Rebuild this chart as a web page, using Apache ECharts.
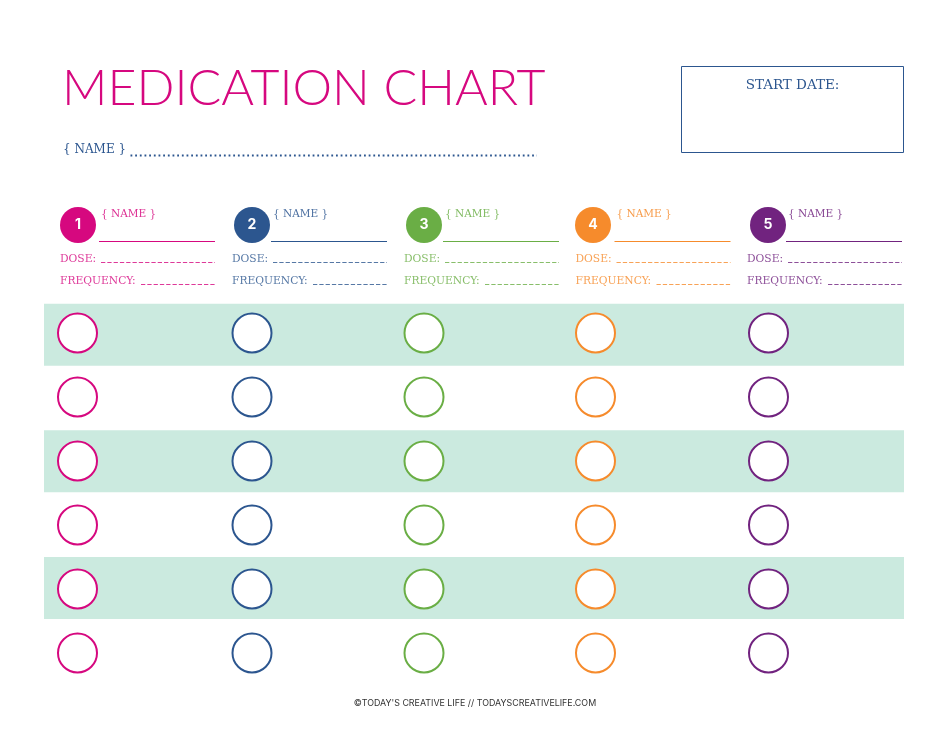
<!DOCTYPE html>
<html>
<head>
<meta charset="utf-8">
<style>html,body{margin:0;padding:0;background:#fff}#main{width:950px;height:739px}</style>
<script src="https://cdn.jsdelivr.net/npm/echarts@6/dist/echarts.min.js"></script>
</head>
<body>
<div id="main"></div>
<script>
var titleText = 'MEDICATION CHART';
var nameText = '{ NAME }';
var startText = 'START DATE:';
var doseText = 'DOSE:';
var freqText = 'FREQUENCY:';
var footerText = '©TODAY\'S CREATIVE LIFE // TODAYSCREATIVELIFE.COM';

var medicines = ['1', '2', '3', '4', '5'];
var rows = ['r1', 'r2', 'r3', 'r4', 'r5', 'r6'];
var stripes = [1, 0, 1, 0, 1, 0];
var colors = ['#d6087f', '#2c568f', '#6aae45', '#f68b2c', '#71237f'];

var SERIF = '"DejaVu Serif", serif';
var blue = colors[1];
var chart = echarts.init(document.getElementById('main'), null, {renderer: 'canvas'});

function hiddenCat(data, grid, extra) {
	return Object.assign({type: 'category', data: data, gridIndex: grid, show: false}, extra || {});
}

function text(x, y, str, color, size, extra) {
	return {
		type: 'text', x: x, y: y, silent: true,
		style: Object.assign({text: str, fill: color, fontFamily: SERIF, fontSize: size, verticalAlign: 'middle'}, extra || {})
	};
}

function line(x1, x2, y, color, width, dash, alpha) {
	return {
		type: 'line', silent: true,
		shape: {x1: x1, y1: y, x2: x2, y2: y},
		style: {stroke: color, lineWidth: width, lineDash: dash || null, opacity: alpha || 1}
	};
}

// page furniture around the grids
var graphics = [
	text(62, 88.5, titleText, colors[0], 50, {fontFamily: 'Lato', fontWeight: 300}),
	text(63, 150, nameText, blue, 12),
	line(130.5, 537, 155.5, blue, 1.8, [1.8, 2.87]),
	{type: 'rect', silent: true, shape: {x: 681.5, y: 66.5, width: 222, height: 86},
		style: {fill: 'none', stroke: blue, lineWidth: 1}},
	text(792.5, 85, startText, blue, 13.5, {textAlign: 'center'}),
	text(475, 703, footerText, '#333', 8.9, {fontFamily: 'Inter', textAlign: 'center'})
];

// labels and rules under each numbered badge
var colLeft = [60, 232, 404, 575.5, 747];
medicines.forEach(function (m, i) {
	var x = colLeft[i], c = colors[i];
	graphics.push(text(x + 41, 214.5, nameText, c, 10.5, {opacity: 0.85}));
	graphics.push(line(x + 39, x + 155, 241.5, c, 1.2));
	graphics.push(text(x, 259, doseText, c, 10.7, {opacity: 0.8}));
	graphics.push(line(x + 41, x + 155, 262.5, c, 1, [4.3, 2], 0.8));
	graphics.push(text(x, 281, freqText, c, 10.7, {opacity: 0.8}));
	graphics.push(line(x + 81, x + 155, 284.5, c, 1, [4.3, 2], 0.8));
});

// the printed columns are not quite evenly spaced
var circleNudge = [0, 1.75, 1, -0.25, 0];
var badgeNudge = [0, 1.5, 1, -2.5, 0];

var option = {
	animation: false,
	backgroundColor: '#fff',
	grid: [
		{left: 44, width: 860, top: 303, height: 380},
		{left: 77.5, width: 691, top: 301, height: 384},
		{left: 78, width: 690, top: 205, height: 40}
	],
	xAxis: [
		{type: 'value', min: 0, max: 1, gridIndex: 0, show: false},
		hiddenCat(medicines, 1, {boundaryGap: false}),
		hiddenCat(medicines, 2, {boundaryGap: false})
	],
	yAxis: [
		hiddenCat(rows, 0, {inverse: true}),
		hiddenCat(rows, 1, {inverse: true}),
		hiddenCat(['badge'], 2)
	],
	graphic: {elements: graphics},
	series: [
		{
			type: 'bar', xAxisIndex: 0, yAxisIndex: 0, barWidth: 62, silent: true,
			itemStyle: {color: '#cbeadf'},
			data: stripes
		}
	].concat(medicines.map(function (m, i) {
		return {
			type: 'scatter', xAxisIndex: 1, yAxisIndex: 1, symbol: 'circle', symbolSize: 39, silent: true,
			symbolOffset: [circleNudge[i], 0],
			itemStyle: {color: '#fff', borderColor: colors[i], borderWidth: 2, opacity: 1},
			data: rows.map(function (r) { return [m, r]; })
		};
	})).concat(medicines.map(function (m, i) {
		return {
			type: 'scatter', xAxisIndex: 2, yAxisIndex: 2, symbol: 'circle', symbolSize: 36, silent: true,
			symbolOffset: [badgeNudge[i], 0],
			itemStyle: {color: colors[i], opacity: 1},
			label: {show: true, position: 'inside', color: '#fff', fontFamily: 'Inter', fontWeight: 700, fontSize: 14,
				formatter: m},
			data: [[m, 'badge']]
		};
	}))
};

chart.setOption(option);
</script>
</body>
</html>
